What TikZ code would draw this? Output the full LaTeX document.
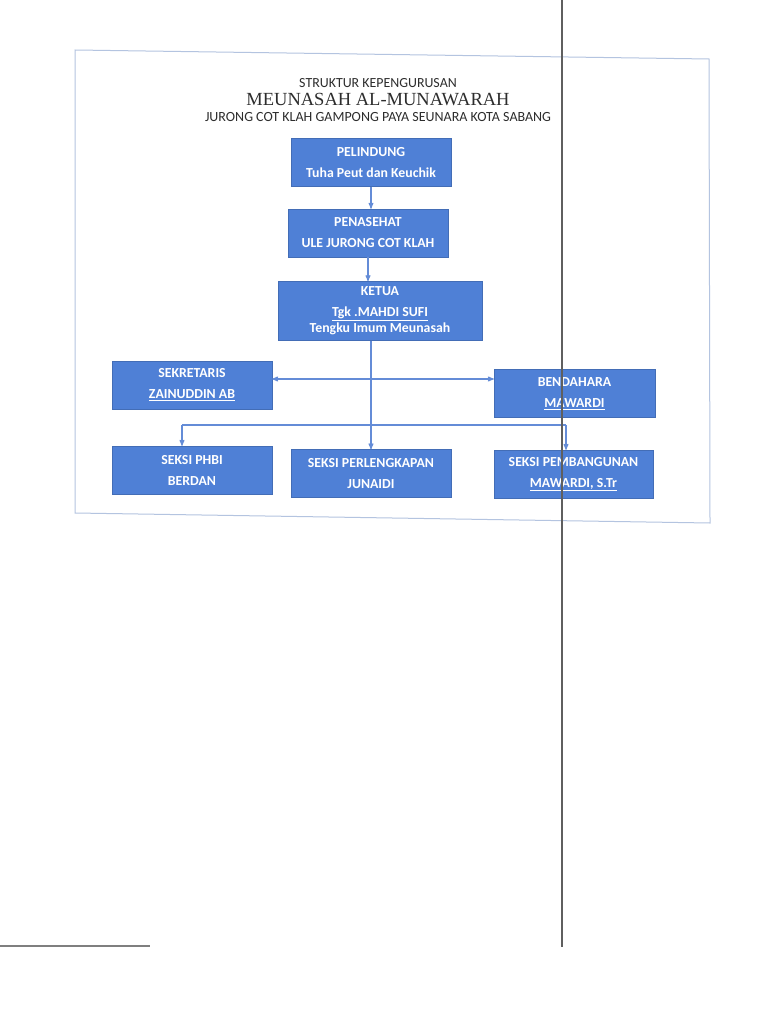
\documentclass[tikz,border=0pt]{standalone}
\usepackage{fontspec}
\setmainfont{Carlito}
\newfontfamily\titleserif{Liberation Serif}
\usepackage{tikz}
\usetikzlibrary{arrows,positioning}

\definecolor{boxblue}{RGB}{79,128,214}
\definecolor{linkblue}{RGB}{100,140,215}
\definecolor{framegray}{RGB}{180,196,224}
\definecolor{scangray}{RGB}{95,95,95}
\definecolor{inkgray}{RGB}{45,45,45}

\tikzset{
  orgbox/.style={rectangle,fill=boxblue,draw=boxblue!85!black,line width=.4pt,
    text=white,font=\fontsize{13.8}{21}\selectfont\bfseries,align=center,
    minimum width=160pt,minimum height=48pt,inner sep=0pt},
  link/.style={draw=linkblue,line width=1.1pt}
}

\begin{document}
\begin{tikzpicture}[x=1pt,y=-1pt,>=stealth']
 \fill[white] (0,0) rectangle (768,1024);
 \useasboundingbox (0,0) rectangle (768,1024);

 % outer frame of the scanned sheet
 \draw[framegray,line width=1pt] (75,50) -- (709,59) -- (710,523) -- (75,513) -- cycle;

 % heading
 \node[text=inkgray] (head1) at (378,83) {\fontsize{13.9}{15}\selectfont STRUKTUR KEPENGURUSAN};
 \node[text=inkgray] (head2) at (378,100) {\titleserif\fontsize{18.5}{20}\selectfont MEUNASAH AL-MUNAWARAH};
 \node[text=inkgray] (head3) at (378,117) {\fontsize{14}{15}\selectfont JURONG COT KLAH GAMPONG PAYA SEUNARA KOTA SABANG};

 % boxes
 \node[orgbox] (pel) at (371,162.5) {PELINDUNG\\Tuha Peut dan Keuchik};
 \node[orgbox] (pen) [below = 22pt of pel, xshift=-3pt] {PENASEHAT\\ULE JURONG COT KLAH};
 \node[orgbox,minimum width=204pt,minimum height=59pt] (ket) [below = 24pt of pen, xshift=12pt]
   {KETUA\\\underline{Tgk .MAHDI SUFI}\\[-5pt]Tengku Imum Meunasah};
 \node[orgbox] (sek) at (192,385) {SEKRETARIS\\\underline{ZAINUDDIN AB}};
 \node[orgbox,minimum width=161pt] (ben) at (574.5,393.5) {BENDAHARA\\\underline{MAWARDI}};
 \node[orgbox] (phbi) at (192,470) {SEKSI PHBI\\BERDAN};
 \node[orgbox] (perl) at (371,473.5) {SEKSI PERLENGKAPAN\\JUNAIDI};
 \node[orgbox,minimum width=159pt] (pemb) at (573.5,474) {SEKSI PEMBANGUNAN\\\underline{MAWARDI, S.Tr}};

 % connectors
 \coordinate (bus) at (371,379);
 \coordinate (barL) at (182,425);
 \coordinate (barR) at (566,425);
 \path[link,->] (pel.south) -- (pel.south |- pen.north);
 \path[link,->] (pen.south) -- (pen.south |- ket.north);
 \path[link,->] (ket.south -| perl) -- (perl.north);
 \path[link,<->] (bus -| sek.east) -- (bus -| ben.west);
 \path[link] (barL) -- (barR);
 \path[link,->] (barL) -- (barL |- phbi.north);
 \path[link,->] (barR) -- (barR |- pemb.north);

 % scanner marks
 \draw[scangray,line width=1.2pt] (562,0) -- (562,947);
 \draw[scangray!80,line width=1.2pt] (0,946) -- (150,946);
\end{tikzpicture}
\end{document}
